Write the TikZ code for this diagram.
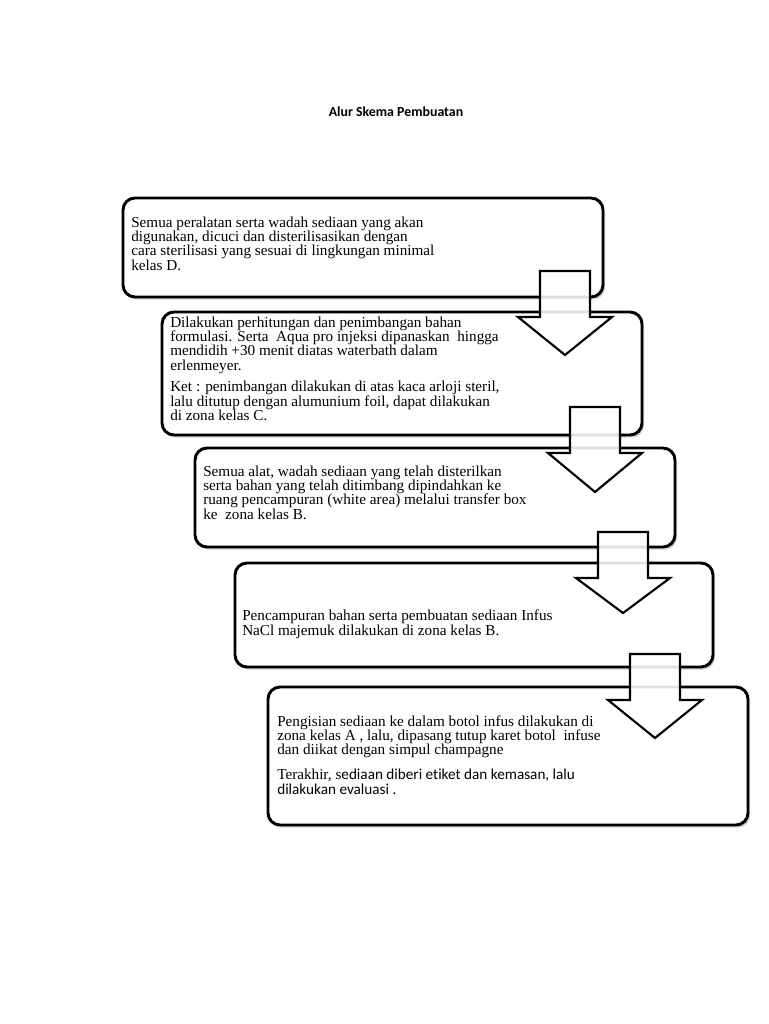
\documentclass[tikz,border=0pt]{standalone}
\usepackage{fontspec}
\setmainfont{Liberation Serif}
\newfontfamily\calfont[Ligatures=NoCommon]{Carlito}
\usetikzlibrary{shadows}
\begin{document}
\begin{tikzpicture}[x=0.75pt,y=-0.75pt,
  stepbox/.style={draw=black, line width=2.2pt, rounded corners=9pt, fill=white,
    drop shadow={opacity=0.35, shadow xshift=1.5pt, shadow yshift=-2pt}},
  steptext/.style={anchor=base west, inner sep=0pt, align=left,
    font=\fontsize{11.4pt}{10.75pt}\selectfont},
  blockarrow/.style={draw=black, line width=1.6pt, fill=white, fill opacity=0.88, line join=miter},
  title/.style={font=\calfont\bfseries\fontsize{10.4pt}{12pt}\selectfont, inner sep=0pt}
]
\useasboundingbox (0,0) rectangle (768,1024);
\fill[white] (0,0) rectangle (768,1024);

\node[title] (title) at (396,112) {Alur Skema Pembuatan};

% boxes
\path[stepbox] (123,198) rectangle (603,297);
\coordinate (b1) at (363,247);
\path[stepbox] (162,312) rectangle (642,435);
\coordinate (b2) at (402,373);
\path[stepbox] (195,448) rectangle (675,547);
\coordinate (b3) at (435,497);
\path[stepbox] (235,563) rectangle (713,667);
\coordinate (b4) at (474,615);
\path[stepbox] (268,687) rectangle (748,825);
\coordinate (b5) at (508,756);

% texts (anchored at the baseline of the last line)
\node[steptext] (t1) at (131,270.3) {Semua peralatan serta wadah sediaan yang akan\\digunakan, dicuci dan disterilisasikan dengan\\cara sterilisasi yang sesuai di lingkungan minimal\\kelas D.};
\node[steptext] (t2) at (170,370.3) {Dilakukan perhitungan dan penimbangan bahan\\formulasi. Serta\ \ Aqua pro injeksi dipanaskan\ \ hingga\\mendidih +30 menit diatas waterbath dalam\\erlenmeyer.};
\node[steptext] (t2b) at (170,420.4) {Ket : penimbangan dilakukan di atas kaca arloji steril,\\lalu ditutup dengan alumunium foil, dapat dilakukan\\di zona kelas C.};
\node[steptext] (t3) at (203,519) {Semua alat, wadah sediaan yang telah disterilkan\\serta bahan yang telah ditimbang dipindahkan ke\\ruang pencampuran (white area) melalui transfer box\\ke\ \ zona kelas B.};
\node[steptext] (t4) at (242,635.3) {Pencampuran bahan serta pembuatan sediaan Infus\\NaCl majemuk dilakukan di zona kelas B.};
\node[steptext] (t5) at (277,754.7) {Pengisian sediaan ke dalam botol infus dilakukan di\\zona kelas A , lalu, dipasang tutup karet botol\ \ infuse\\dan diikat dengan simpul champagne};
\node[steptext] (t5b) at (277,794.3) {Terakhir, s{\calfont ediaan diberi etiket dan kemasan, lalu}\\{\calfont dilakukan evaluasi .}};

% block arrows
\draw[blockarrow] (540,271) -- (590,271) -- (590,317) -- (612,317) -- (565,355) -- (518,317) -- (540,317) -- cycle;
\draw[blockarrow] (570,407) -- (620,407) -- (620,453) -- (642,453) -- (595,492) -- (548,453) -- (570,453) -- cycle;
\draw[blockarrow] (598,532) -- (648,532) -- (648,578) -- (670,578) -- (623,613) -- (576,578) -- (598,578) -- cycle;
\draw[blockarrow] (630,654) -- (680,654) -- (680,700) -- (702,700) -- (655,738) -- (608,700) -- (630,700) -- cycle;
\end{tikzpicture}
\end{document}
